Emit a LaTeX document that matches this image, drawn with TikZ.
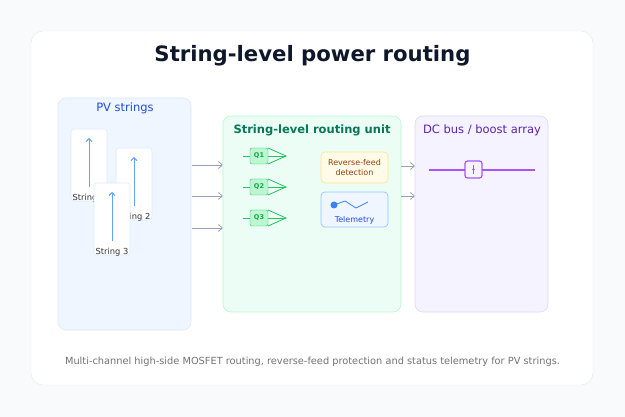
\documentclass[tikz,border=0pt]{standalone}
\usepackage{fontspec}
\setmainfont{DejaVu Sans}
\usetikzlibrary{arrows.meta}
\definecolor{bg}{HTML}{F8FAFC}
\definecolor{cardb}{HTML}{E2E8F0}
\definecolor{pvf}{HTML}{EFF6FF}\definecolor{pvb}{HTML}{DBEAFE}
\definecolor{gf}{HTML}{ECFDF5}\definecolor{gb}{HTML}{BBF7D0}
\definecolor{vf}{HTML}{F5F3FF}\definecolor{vb}{HTML}{DDD6FE}
\definecolor{conn}{HTML}{94A3B8}
\definecolor{sblue}{HTML}{60A5FA}
\definecolor{qg}{HTML}{22C55E}\definecolor{qf}{HTML}{BBF7D0}
\definecolor{qt}{HTML}{16A34A}
\definecolor{pur}{HTML}{A855F7}
\definecolor{tblue}{HTML}{1D4ED8}
\definecolor{tgreen}{HTML}{047857}
\definecolor{tpur}{HTML}{5B21B6}
\definecolor{yb}{HTML}{FDE68A}\definecolor{yf}{HTML}{FEFCE8}\definecolor{yt}{HTML}{92400E}
\definecolor{lb}{HTML}{93C5FD}\definecolor{mb}{HTML}{3B82F6}
\definecolor{ink}{HTML}{0F172A}
\begin{document}
\begin{tikzpicture}[x=1pt,y=-1pt,
  panel/.style={draw,rounded corners=8pt,line width=0.6pt},
  scard/.style={draw=pvb,fill=white,rounded corners=3pt,line width=0.6pt},
  slabel/.style={font=\fontsize{8.3}{9}\selectfont,text=black!80},
  link/.style={draw=conn,line width=0.8pt,-{Straight Barb[length=4pt,width=7pt]}},
  qbox/.style={draw=qg,fill=qf,rounded corners=2pt,minimum width=18pt,minimum height=16pt,inner sep=0pt,font=\bfseries\fontsize{6.5}{7}\selectfont,text=qt}]
\useasboundingbox (0,0) rectangle (625,417);
\fill[bg] (0,0) rectangle (625,417);
\draw[cardb,fill=white,rounded corners=12pt] (31,31) rectangle (593,385);
\node[text=ink,font=\bfseries\fontsize{21.2}{24}\selectfont] (title) at (312.5,56) {String-level power routing};
% PV panel
\draw[panel,draw=pvb,fill=pvf] (58,98) rectangle (191,330);
\node[text=tblue,font=\fontsize{11.5}{13}\selectfont] (pvt) at (125,108) {PV strings};
\foreach \x/\y/\n in {71/129/1,116/148/2,94/183/3}{
  \draw[scard] (\x,\y) rectangle ++(36,72);
  \draw[sblue,line width=0.9pt,-{Straight Barb[length=3pt,width=6pt]}] (\x+18,\y+58) -- (\x+18,\y+9);
  \node[slabel] (s\n) at (\x+18,\y+69) {String \n};
}
\coordinate (a1) at (192,165);\coordinate (b1) at (223,165);
\coordinate (a2) at (192,196);\coordinate (b2) at (223,196);
\coordinate (a3) at (192,228);\coordinate (b3) at (223,228);
\foreach \i in {1,2,3}{\draw[link] (a\i) -- (b\i);}
% routing unit
\draw[panel,draw=gb,fill=gf] (223,116) rectangle (401,312);
\node[text=tgreen,font=\bfseries\fontsize{11.5}{13}\selectfont] (rt) at (312,130) {String-level routing unit};
\foreach \y/\n in {156/1,187/2,218/3}{
  \draw[qg,line width=0.8pt] (243,\y) -- (250,\y);
  \draw[qg,line width=0.8pt] (268,\y-8) -- (286,\y) -- (268,\y+8);
  \draw[qg,line width=0.6pt] (268,\y) -- (286,\y);
  \node[qbox] (q\n) at (259,\y) {Q\n};
}
\node[draw=yb,fill=yf,rounded corners=4pt,line width=0.7pt,minimum width=67pt,minimum height=31pt,align=center,font=\fontsize{8}{10}\selectfont,text=yt] (rf) at (354.5,167.5) {Reverse-feed\\detection};
\node[draw=lb,fill=pvf,rounded corners=4pt,line width=0.7pt,minimum width=67pt,minimum height=35pt] (tel) at (354.5,209.5) {};
\fill[mb] (334,205) circle (3.5pt);
\draw[mb,line width=0.8pt] (334,205) -- (345,201) -- (356,208) -- (368,202);
\node[text=tblue,font=\fontsize{8}{10}\selectfont] (telt) at (354.5,220) {Telemetry};
\coordinate (c1) at (401,166);\coordinate (d1) at (415,166);
\coordinate (c2) at (401,196);\coordinate (d2) at (415,196);
\draw[link] (c1) -- (d1); \draw[link] (c2) -- (d2);
% DC bus
\draw[panel,draw=vb,fill=vf] (415,116) rectangle (548,312);
\node[text=tpur,font=\fontsize{11.5}{13}\selectfont] (dct) at (482,130) {DC bus / boost array};
\draw[pur,line width=1.2pt] (429,170) -- (535,170);
\node[draw=pur,fill=vf,line width=1.2pt,rounded corners=2.5pt,minimum size=17pt,inner sep=0pt] (bx) at (473.5,169.5) {};
\draw[pur,line width=0.8pt] (473.5,165) -- (473.5,174);
\fill[pur] (473.5,169.5) circle (1.4pt);
\node[text=black!55,font=\fontsize{9.8}{11}\selectfont] (cap) at (312.5,362) {Multi-channel high-side MOSFET routing, reverse-feed protection and status telemetry for PV strings.};
\end{tikzpicture}
\end{document}
